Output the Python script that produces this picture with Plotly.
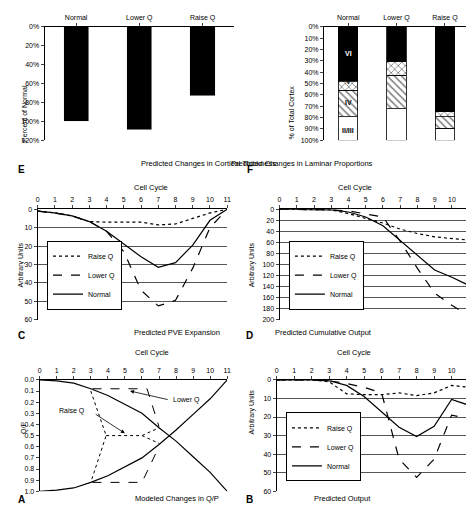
import plotly.graph_objects as go
from plotly.subplots import make_subplots

cycles = list(range(12))
groups = ["Normal", "Lower Q", "Raise Q"]

# A: modeled Q/P
q_curve = [0, 0.01, 0.03, 0.08, 0.14, 0.22, 0.30, 0.43, 0.55, 0.69, 0.83, 1.0]
p_curve = [1.0, 0.99, 0.97, 0.92, 0.86, 0.78, 0.70, 0.58, 0.45, 0.31, 0.17, 0.0]
lower_up_x = [3.1, 6.3, 7.0]
lower_up_y = [0.08, 0.08, 0.42]
lower_dn_x = [3.1, 6.0, 7.0]
lower_dn_y = [0.92, 0.92, 0.60]
raise_x = [3.0, 3.9, 3.0, None, 3.9, 6.0, 7.0, None, 6.0, 7.0]
raise_y = [0.10, 0.50, 0.92, None, 0.50, 0.50, 0.43, None, 0.50, 0.57]

# B: predicted output
b_normal = [0, 0, 0, 0.5, 3, 9, 17, 25.5, 30.5, 25, 10.5, 13.7]
b_lower = [0, 0, 0, 0.5, 2, 4, 7, 42.7, 52.5, 42.7, 19, 21]
b_raise = [0, 0, 0, 1, 7.5, 8, 8, 7, 8.5, 7, 3, 4]

# C: predicted PVE expansion
c_normal = [1, 2, 3.6, 6.7, 12, 19, 25.8, 31.5, 29, 19.5, 6, 0]
c_lower = [1, 2, 3.6, 6.7, 12, 23, 44, 52.5, 49.5, 32, 10, 0]
c_raise = [1, 2, 3.6, 6.7, 7, 7, 7, 8.5, 8, 5, 2, 0]

# D: predicted cumulative output
d_normal = [0, 0, 0, 1, 5, 14, 30, 57, 83, 110, 123, 138]
d_lower = [0, 0, 0, 1, 3, 8, 14, 58, 107, 152, 174, 193]
d_raise = [0, 0, 0, 1, 8, 16, 25, 36, 44, 50, 53, 56]

# E: cortical thickness (% of normal)
e_thickness = [100, 109, 73]

# F: laminar proportions (% of total cortex)
f_layers = ["VI", "V", "IV", "II/III"]
f_values = {
    "VI": [48, 31, 75],
    "V": [8.5, 12, 4],
    "IV": [22.5, 29, 11],
    "II/III": [21, 28, 10],
}

FONT = "Liberation Sans"
W, H = 474, 508

fig = make_subplots(rows=3, cols=2)


def dom(x0, x1, y0, y1):
    return [x0 / W, x1 / W], [1 - y1 / H, 1 - y0 / H]


boxes = {
    (1, 1): dom(35, 227, 15, 130),
    (1, 2): dom(318, 465, 15, 130),
    (2, 1): dom(28, 220, 200, 312),
    (2, 2): dom(273, 465, 200, 312),
    (3, 1): dom(30, 220, 373, 486),
    (3, 2): dom(270, 465, 373, 486),
}

line_styles = [("Raise Q", "dot"), ("Lower Q", "dash"), ("Normal", "solid")]


def add_lines(series, row, col, legend):
    for (name, dash), ys in zip(line_styles, series):
        fig.add_trace(
            go.Scatter(x=cycles, y=ys, mode="lines", name=name, legend=legend,
                       line=dict(color="black", width=1.2, dash=dash)),
            row=row, col=col,
        )


# E
fig.add_trace(go.Bar(x=groups, y=e_thickness, marker_color="black", width=0.4,
                     showlegend=False), row=1, col=1)

# F
patterns = {"VI": "", "V": "x", "IV": "\\", "II/III": ""}
colors = {"VI": "black", "V": "white", "IV": "white", "II/III": "white"}
for layer in f_layers:
    fig.add_trace(
        go.Bar(x=groups, y=f_values[layer], width=0.4, showlegend=False,
               marker=dict(color=colors[layer], line=dict(color="black", width=0.8),
                           pattern=dict(shape=patterns[layer], fgcolor="black", size=5, solidity=0.3))),
        row=1, col=2,
    )
fig.update_layout(barmode="stack")

# C, D, B
add_lines([c_raise, c_lower, c_normal], 2, 1, "legend")
add_lines([d_raise, d_lower, d_normal], 2, 2, "legend2")
add_lines([b_raise, b_lower, b_normal], 3, 2, "legend3")

# A
for ys in (q_curve, p_curve):
    fig.add_trace(go.Scatter(x=cycles, y=ys, mode="lines", showlegend=False,
                             line=dict(color="black", width=1.2)), row=3, col=1)
for xs, ys in ((lower_up_x, lower_up_y), (lower_dn_x, lower_dn_y)):
    fig.add_trace(go.Scatter(x=xs, y=ys, mode="lines", showlegend=False,
                             line=dict(color="black", width=1, dash="dash")), row=3, col=1)
fig.add_trace(go.Scatter(x=raise_x, y=raise_y, mode="lines", showlegend=False,
                         line=dict(color="black", width=1, dash="dot")), row=3, col=1)

axfont = dict(family=FONT, size=7, color="black")
for (r, c), (xd, yd) in boxes.items():
    fig.update_xaxes(domain=xd, side="top", showline=True, linecolor="black",
                     ticks="outside", ticklen=3, tickfont=axfont, showgrid=False,
                     row=r, col=c)
    fig.update_yaxes(domain=yd, autorange=False, showline=True, linecolor="black",
                     ticks="outside", ticklen=3, tickfont=axfont, row=r, col=c)

fig.update_yaxes(range=[120, 0], dtick=20, ticksuffix="%", showgrid=False, row=1, col=1)
fig.update_yaxes(range=[100, 0], dtick=10, ticksuffix="%", showgrid=False, row=1, col=2)
for r, c, top, step in ((2, 1, 60, 10), (2, 2, 200, 20), (3, 2, 60, 10)):
    fig.update_yaxes(range=[top, 0], dtick=step, showgrid=True, gridcolor="#555555",
                     gridwidth=1, row=r, col=c)
fig.update_yaxes(range=[1.0, 0], dtick=0.1, tickformat=".1f", showgrid=False, row=3, col=1)
for r, c in ((2, 1), (2, 2), (3, 1), (3, 2)):
    fig.update_xaxes(range=[0, 11], tickvals=cycles, row=r, col=c)

titles = dict(family=FONT, size=7.5, color="black")
ann = [
    ("Predicted Changes in Cortical Thickness", 131, 147),
    ("Predicted Changes in Laminar Proportions", 370, 147),
    ("Predicted PVE Expansion", 124, 325),
    ("Predicted Cumulative Output", 369, 325),
    ("Modeled Changes in Q/P", 125, 500),
    ("Predicted Output", 368, 500),
    ("Cell Cycle", 124, 178),
    ("Cell Cycle", 369, 178),
    ("Cell Cycle", 125, 352),
    ("Cell Cycle", 368, 352),
]
for text, x, y in ann:
    fig.add_annotation(text=text, x=x / W, y=1 - y / H, xref="paper", yref="paper",
                       showarrow=False, font=titles)
for text, x, y in (("Percent of Normal", 9, 72), ("% of Total Cortex", 285, 72),
                   ("Arbitrary Units", 6, 256), ("Arbitrary Units", 246, 256),
                   ("Q/P", 8, 430), ("Arbitrary Units", 245, 430)):
    fig.add_annotation(text=text, x=x / W, y=1 - y / H, xref="paper", yref="paper",
                       showarrow=False, textangle=-90, font=axfont)
for text, x, y in (("E", 6, 152), ("F", 243, 152), ("C", 6, 328), ("D", 243, 328),
                   ("A", 6, 502), ("B", 243, 502)):
    fig.add_annotation(text=f"<b>{text}</b>", x=x / W, y=1 - y / H, xref="paper",
                       yref="paper", showarrow=False,
                       font=dict(family=FONT, size=10, color="black"))
for text, y in (("VI", 36), ("V", 65), ("IV", 86), ("II/III", 115)):
    fig.add_annotation(text=f"<b>{text}</b>", x="Normal", y=1 - y / H, xref="x2",
                       yref="paper", showarrow=False,
                       font=dict(family=FONT, size=7,
                                 color="white" if text == "VI" else "black"))

# arrows in panel A
fig.add_annotation(x=5.3, y=0.1, ax=7.6, ay=0.18, xref="x5", yref="y5", axref="x5",
                   ayref="y5", text="", showarrow=True, arrowhead=2, arrowsize=1,
                   arrowwidth=0.8, arrowcolor="black")
fig.add_annotation(x=7.7, y=0.18, xref="x5", yref="y5", text="Lower Q", showarrow=False,
                   font=axfont, xanchor="left", bgcolor="white")
fig.add_annotation(x=5.0, y=0.48, ax=3.2, ay=0.3, xref="x5", yref="y5", axref="x5",
                   ayref="y5", text="", showarrow=True, arrowhead=2, arrowsize=1,
                   arrowwidth=0.8, arrowcolor="black")
fig.add_annotation(x=2.8, y=0.28, xref="x5", yref="y5", text="Raise Q", showarrow=False,
                   font=axfont, xanchor="right")

leg = dict(bgcolor="white", bordercolor="black", borderwidth=1, font=axfont,
           xanchor="left", yanchor="bottom", tracegroupgap=0, itemwidth=30,
           traceorder="normal")
fig.update_layout(
    legend=dict(leg, x=boxes[(2, 1)][0][0] + 0.02, y=boxes[(2, 1)][1][0] + 0.02),
    legend2=dict(leg, x=boxes[(2, 2)][0][0] + 0.02, y=boxes[(2, 2)][1][0] + 0.02),
    legend3=dict(leg, x=boxes[(3, 2)][0][0] + 0.02, y=boxes[(3, 2)][1][0] + 0.02),
    width=W, height=H, margin=dict(l=0, r=0, t=0, b=0),
    plot_bgcolor="white", paper_bgcolor="white",
    font=dict(family=FONT, size=7, color="black"),
)

fig.write_html("out.html")
